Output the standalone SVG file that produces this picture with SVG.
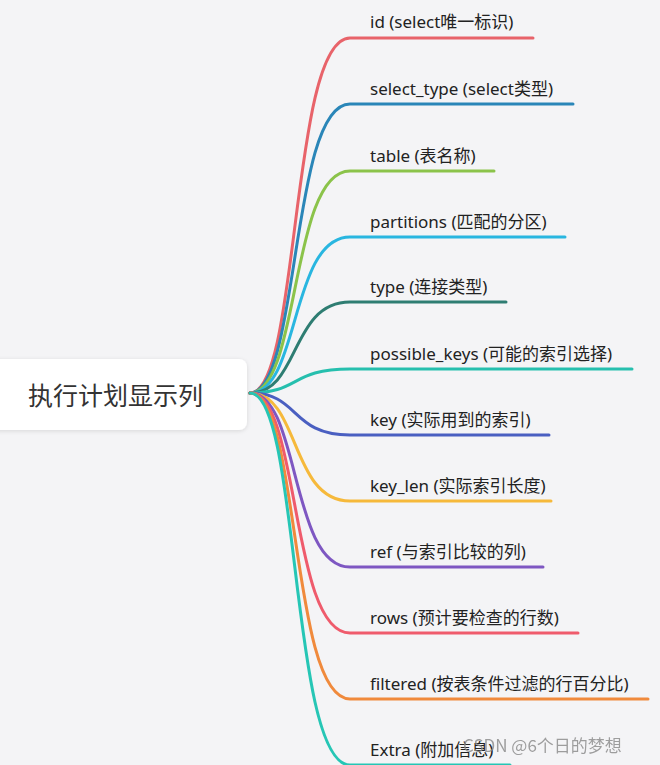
<svg xmlns="http://www.w3.org/2000/svg" width="660" height="765" viewBox="0 0 660 765">
<style>
.l{fill:none;stroke-width:3;stroke-linecap:round}
.t{font-family:"Noto Sans","Noto Sans CJK SC",sans-serif;font-size:17px;fill:#222}
</style>
<defs><filter id="sh" x="-10%" y="-20%" width="120%" height="150%"><feDropShadow dx="0" dy="1" stdDeviation="2" flood-opacity="0.12"/></filter></defs>
<rect width="660" height="765" fill="#f4f4f6"/>
<g id="connectors">
<path class="l" stroke="#e8636a" d="M250,393 C300,393 290,38 350,38 H533"/>
<path class="l" stroke="#2a86b8" d="M250,393 C300,393 290,104 350,104 H573"/>
<path class="l" stroke="#8bc34a" d="M250,393 C300,393 290,171 350,171 H494"/>
<path class="l" stroke="#29b6e0" d="M250,393 C300,393 290,237 350,237 H565"/>
<path class="l" stroke="#2e7d72" d="M250,393 C300,393 290,302 350,302 H506"/>
<path class="l" stroke="#26bfae" d="M250,393 C300,393 290,369 350,369 H632"/>
<path class="l" stroke="#4a5fc1" d="M250,393 C300,393 290,435 350,435 H549"/>
<path class="l" stroke="#f6b93b" d="M250,393 C300,393 290,501 350,501 H551"/>
<path class="l" stroke="#7e57c2" d="M250,393 C300,393 290,567 350,567 H543"/>
<path class="l" stroke="#ef5b6c" d="M250,393 C300,393 290,633 350,633 H578"/>
<path class="l" stroke="#f08a3c" d="M250,393 C300,393 290,699 350,699 H648"/>
<path class="l" stroke="#26c6b5" d="M250,393 C300,393 290,765 350,765 H510"/>
</g>
<g id="root"><rect x="-12" y="359" width="259" height="71" rx="8" fill="#fff" filter="url(#sh)"/>
<text x="28" y="405" style="font-family:'Noto Sans CJK SC',sans-serif;font-size:25px;fill:#333">执行计划显示列</text></g>
<g id="n1"><text class="t" x="370" y="28">id (select唯一标识)</text></g>
<g id="n2"><text class="t" x="370" y="95">select_type (select类型)</text></g>
<g id="n3"><text class="t" x="370" y="162">table (表名称)</text></g>
<g id="n4"><text class="t" x="370" y="228">partitions (匹配的分区)</text></g>
<g id="n5"><text class="t" x="370" y="293">type (连接类型)</text></g>
<g id="n6"><text class="t" x="370" y="360">possible_keys (可能的索引选择)</text></g>
<g id="n7"><text class="t" x="370" y="426">key (实际用到的索引)</text></g>
<g id="n8"><text class="t" x="370" y="492">key_len (实际索引长度)</text></g>
<g id="n9"><text class="t" x="370" y="558">ref (与索引比较的列)</text></g>
<g id="n10"><text class="t" x="370" y="624">rows (预计要检查的行数)</text></g>
<g id="n11"><text class="t" x="370" y="690">filtered (按表条件过滤的行百分比)</text></g>
<g id="n12"><text class="t" x="370" y="756">Extra (附加信息)</text></g>
<text x="463" y="752" style="font-family:'Noto Sans CJK SC',sans-serif;font-size:17px;fill:#888;opacity:0.8">CSDN @6个日的梦想</text>
</svg>
